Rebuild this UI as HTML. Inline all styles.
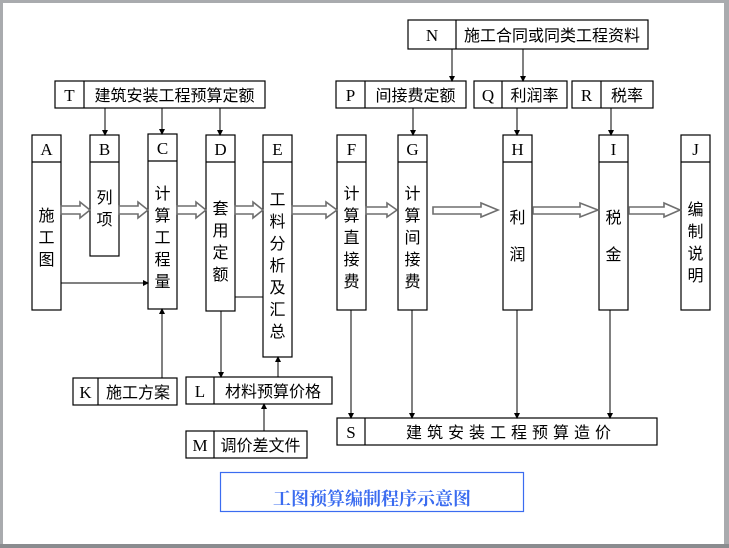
<!DOCTYPE html>
<html><head><meta charset="utf-8"><style>
html,body{margin:0;padding:0;background:#fff;}
svg{display:block;}
.c{font-family:"Liberation Sans","Noto Sans CJK SC",sans-serif;font-size:16px;fill:#000;}
.l{font-family:"Liberation Serif",serif;font-size:17px;fill:#000;}
</style></head><body>
<svg width="729" height="548" viewBox="0 0 729 548" xmlns="http://www.w3.org/2000/svg">
<defs><marker id="ar" markerWidth="6" markerHeight="6" refX="5" refY="3" orient="auto" markerUnits="userSpaceOnUse"><path d="M0,0 L6,3 L0,6 z" fill="#000"/></marker></defs>
<rect x="0" y="0" width="729" height="548" fill="#fff"/>
<rect x="0" y="0" width="729" height="3" fill="#a9abae"/>
<rect x="0" y="0" width="3" height="548" fill="#a9abae"/>
<rect x="724" y="0" width="5" height="548" fill="#a9abae"/>
<rect x="0" y="544" width="729" height="4" fill="#8a8c8f"/>
<g fill="#fff" stroke="#000" stroke-width="1.2">
<!-- top label boxes -->
<rect x="55" y="81" width="210" height="27"/><line x1="84" y1="81" x2="84" y2="108"/>
<rect x="408" y="20" width="240" height="29"/><line x1="456" y1="20" x2="456" y2="49"/>
<rect x="336" y="81" width="130" height="27"/><line x1="365" y1="81" x2="365" y2="108"/>
<rect x="474" y="81" width="93" height="27"/><line x1="502" y1="81" x2="502" y2="108"/>
<rect x="572" y="81" width="81" height="27"/><line x1="601" y1="81" x2="601" y2="108"/>
<!-- columns -->
<rect x="32" y="135" width="29" height="175"/><line x1="32" y1="162" x2="61" y2="162"/>
<rect x="90" y="135" width="29" height="121"/><line x1="90" y1="162" x2="119" y2="162"/>
<rect x="148" y="134" width="29" height="175"/><line x1="148" y1="161" x2="177" y2="161"/>
<rect x="206" y="135" width="29" height="176"/><line x1="206" y1="162" x2="235" y2="162"/>
<rect x="263" y="135" width="29" height="222"/><line x1="263" y1="162" x2="292" y2="162"/>
<rect x="337" y="135" width="29" height="175"/><line x1="337" y1="162" x2="366" y2="162"/>
<rect x="398" y="135" width="29" height="175"/><line x1="398" y1="162" x2="427" y2="162"/>
<rect x="503" y="135" width="29" height="175"/><line x1="503" y1="162" x2="532" y2="162"/>
<rect x="599" y="135" width="29" height="175"/><line x1="599" y1="162" x2="628" y2="162"/>
<rect x="681" y="135" width="29" height="175"/><line x1="681" y1="162" x2="710" y2="162"/>
<!-- bottom boxes -->
<rect x="73" y="378" width="104" height="27"/><line x1="98" y1="378" x2="98" y2="405"/>
<rect x="186" y="377" width="146" height="27"/><line x1="214" y1="377" x2="214" y2="404"/>
<rect x="186" y="431" width="121" height="27"/><line x1="214" y1="431" x2="214" y2="458"/>
<rect x="337" y="418" width="320" height="27"/><line x1="365" y1="418" x2="365" y2="445"/>
</g>
<rect x="220.5" y="472.5" width="303" height="39" fill="none" stroke="#3b6cf0" stroke-width="1.2"/>
<!-- connectors -->
<g stroke="#000" stroke-width="1" fill="none" marker-end="url(#ar)">
<line x1="105" y1="108" x2="105" y2="135"/>
<line x1="162" y1="108" x2="162" y2="134"/>
<line x1="220" y1="108" x2="220" y2="135"/>
<line x1="413" y1="108" x2="413" y2="135"/>
<line x1="517" y1="108" x2="517" y2="135"/>
<line x1="611" y1="108" x2="611" y2="135"/>
<line x1="452" y1="49" x2="452" y2="81"/>
<line x1="523" y1="49" x2="523" y2="81"/>
<line x1="61" y1="283" x2="148" y2="283"/>
<line x1="162" y1="378" x2="162" y2="309"/>
<line x1="221" y1="311" x2="221" y2="377"/>
<line x1="278" y1="377" x2="278" y2="357"/>
<line x1="264" y1="431" x2="264" y2="404"/>
<line x1="351" y1="310" x2="351" y2="418"/>
<line x1="412" y1="310" x2="412" y2="418"/>
<line x1="517" y1="310" x2="517" y2="418"/>
<line x1="610" y1="310" x2="610" y2="418"/>
</g>
<line x1="235" y1="297" x2="263" y2="297" stroke="#000" stroke-width="1"/>
<!-- hollow arrows -->
<g fill="#fff" stroke="#6e6e6e" stroke-width="1.6">
<polygon points="61,206 80,206 80,202 90,210 80,218 80,214 61,214"/>
<polygon points="119,206 138,206 138,202 148,210 138,218 138,214 119,214"/>
<polygon points="177,206 196,206 196,202 206,210 196,218 196,214 177,214"/>
<polygon points="235,206 253,206 253,202 263,210 253,218 253,214 235,214"/>
<polygon points="292,206 326,206 326,202 337,210 326,218 326,214 292,214"/>
<polygon points="366,207 387,207 387,203 397,210 387,217 387,214 366,214"/>
<polygon points="433,207 481,207 481,203 498,210 481,217 481,214 433,214"/>
<polygon points="533,207 580,207 580,203 598,210 580,217 580,214 533,214"/>
<polygon points="629,207 664,207 664,203 680,210 664,217 664,214 629,214"/>
</g>
<!-- letters -->
<g class="l" text-anchor="middle">
<text x="69.5" y="101">T</text>
<text x="432" y="41">N</text>
<text x="350.5" y="101">P</text>
<text x="488" y="101">Q</text>
<text x="586.5" y="101">R</text>
<text x="46.5" y="155">A</text>
<text x="104.5" y="155">B</text>
<text x="162.5" y="154">C</text>
<text x="220.5" y="155">D</text>
<text x="277.5" y="155">E</text>
<text x="351.5" y="155">F</text>
<text x="412.5" y="155">G</text>
<text x="517.5" y="155">H</text>
<text x="613.5" y="155">I</text>
<text x="695.5" y="155">J</text>
<text x="85.5" y="398">K</text>
<text x="200" y="397">L</text>
<text x="200" y="451">M</text>
<text x="351" y="438">S</text>
</g>
<!-- horizontal chinese -->
<g class="c">
<text x="174.5" y="101" text-anchor="middle">建筑安装工程预算定额</text>
<text x="552" y="41" text-anchor="middle">施工合同或同类工程资料</text>
<text x="415.5" y="101" text-anchor="middle">间接费定额</text>
<text x="534.5" y="101" text-anchor="middle">利润率</text>
<text x="627" y="101" text-anchor="middle">税率</text>
<text x="138" y="398" text-anchor="middle">施工方案</text>
<text x="273" y="397" text-anchor="middle">材料预算价格</text>
<text x="260.5" y="451" text-anchor="middle">调价差文件</text>
<text x="511" y="438" text-anchor="middle" letter-spacing="5">建筑安装工程预算造价</text>
<text x="372" y="505" text-anchor="middle" style="font-family:'Liberation Serif','Noto Serif CJK SC',serif;font-size:18px;font-weight:bold;fill:#3b6cf0">工图预算编制程序示意图</text>
</g>
<!-- vertical chinese -->
<g class="c" text-anchor="middle">
<text x="46.5" y="221">施</text><text x="46.5" y="243">工</text><text x="46.5" y="265">图</text>
<text x="104.5" y="203">列</text><text x="104.5" y="225">项</text>
<text x="162.5" y="199">计</text><text x="162.5" y="221">算</text><text x="162.5" y="243">工</text><text x="162.5" y="265">程</text><text x="162.5" y="287">量</text>
<text x="220.5" y="214">套</text><text x="220.5" y="236">用</text><text x="220.5" y="258">定</text><text x="220.5" y="280">额</text>
<text x="277.5" y="205">工</text><text x="277.5" y="227">料</text><text x="277.5" y="249">分</text><text x="277.5" y="271">析</text><text x="277.5" y="293">及</text><text x="277.5" y="315">汇</text><text x="277.5" y="337">总</text>
<text x="351.5" y="199">计</text><text x="351.5" y="221">算</text><text x="351.5" y="243">直</text><text x="351.5" y="265">接</text><text x="351.5" y="287">费</text>
<text x="412.5" y="199">计</text><text x="412.5" y="221">算</text><text x="412.5" y="243">间</text><text x="412.5" y="265">接</text><text x="412.5" y="287">费</text>
<text x="517.5" y="223">利</text><text x="517.5" y="260">润</text>
<text x="613.5" y="223">税</text><text x="613.5" y="260">金</text>
<text x="695.5" y="215">编</text><text x="695.5" y="237">制</text><text x="695.5" y="259">说</text><text x="695.5" y="281">明</text>
</g>
</svg>
</body></html>
